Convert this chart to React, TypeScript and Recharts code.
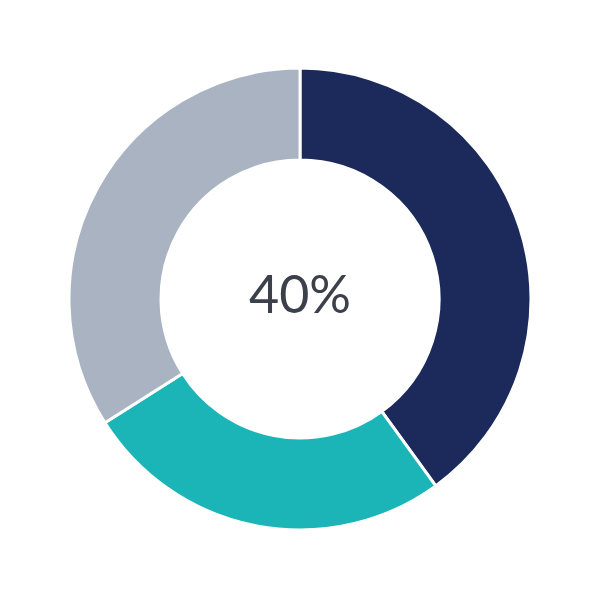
import React from 'react';
import { PieChart, Pie, Cell, Label } from 'recharts';

// share of each segment, clockwise from 12 o'clock
const segments = ['Primary', 'Secondary', 'Other'];
const shares = [40, 26, 34];
const colors = ['#1b2a5b', '#1cb5b7', '#a9b3c2'];
const centerLabel = '40%';

const data = segments.map((name, i) => ({ name, value: shares[i] }));

const App: React.FC = () => {
  return (
    <div style={{ margin: -8, width: 600, height: 599 }}>
      <PieChart width={600} height={599} margin={{ top: 0, right: 0, bottom: 0, left: 0 }}>
        <Pie
          data={data}
          dataKey="value"
          nameKey="name"
          cx={300}
          cy={299}
          innerRadius={139}
          outerRadius={231}
          startAngle={90}
          endAngle={-270}
          stroke="#ffffff"
          strokeWidth={3}
          isAnimationActive={false}
        >
          {data.map((entry, index) => (
            <Cell key={`cell-${index}`} fill={colors[index]} />
          ))}
          <Label
            value={centerLabel}
            position="center"
            fill="#3b404b"
            dy={-5}
            style={{ fontFamily: 'Lato', fontSize: 52, fontWeight: 400 }}
          />
        </Pie>
      </PieChart>
    </div>
  );
};

export default App;
